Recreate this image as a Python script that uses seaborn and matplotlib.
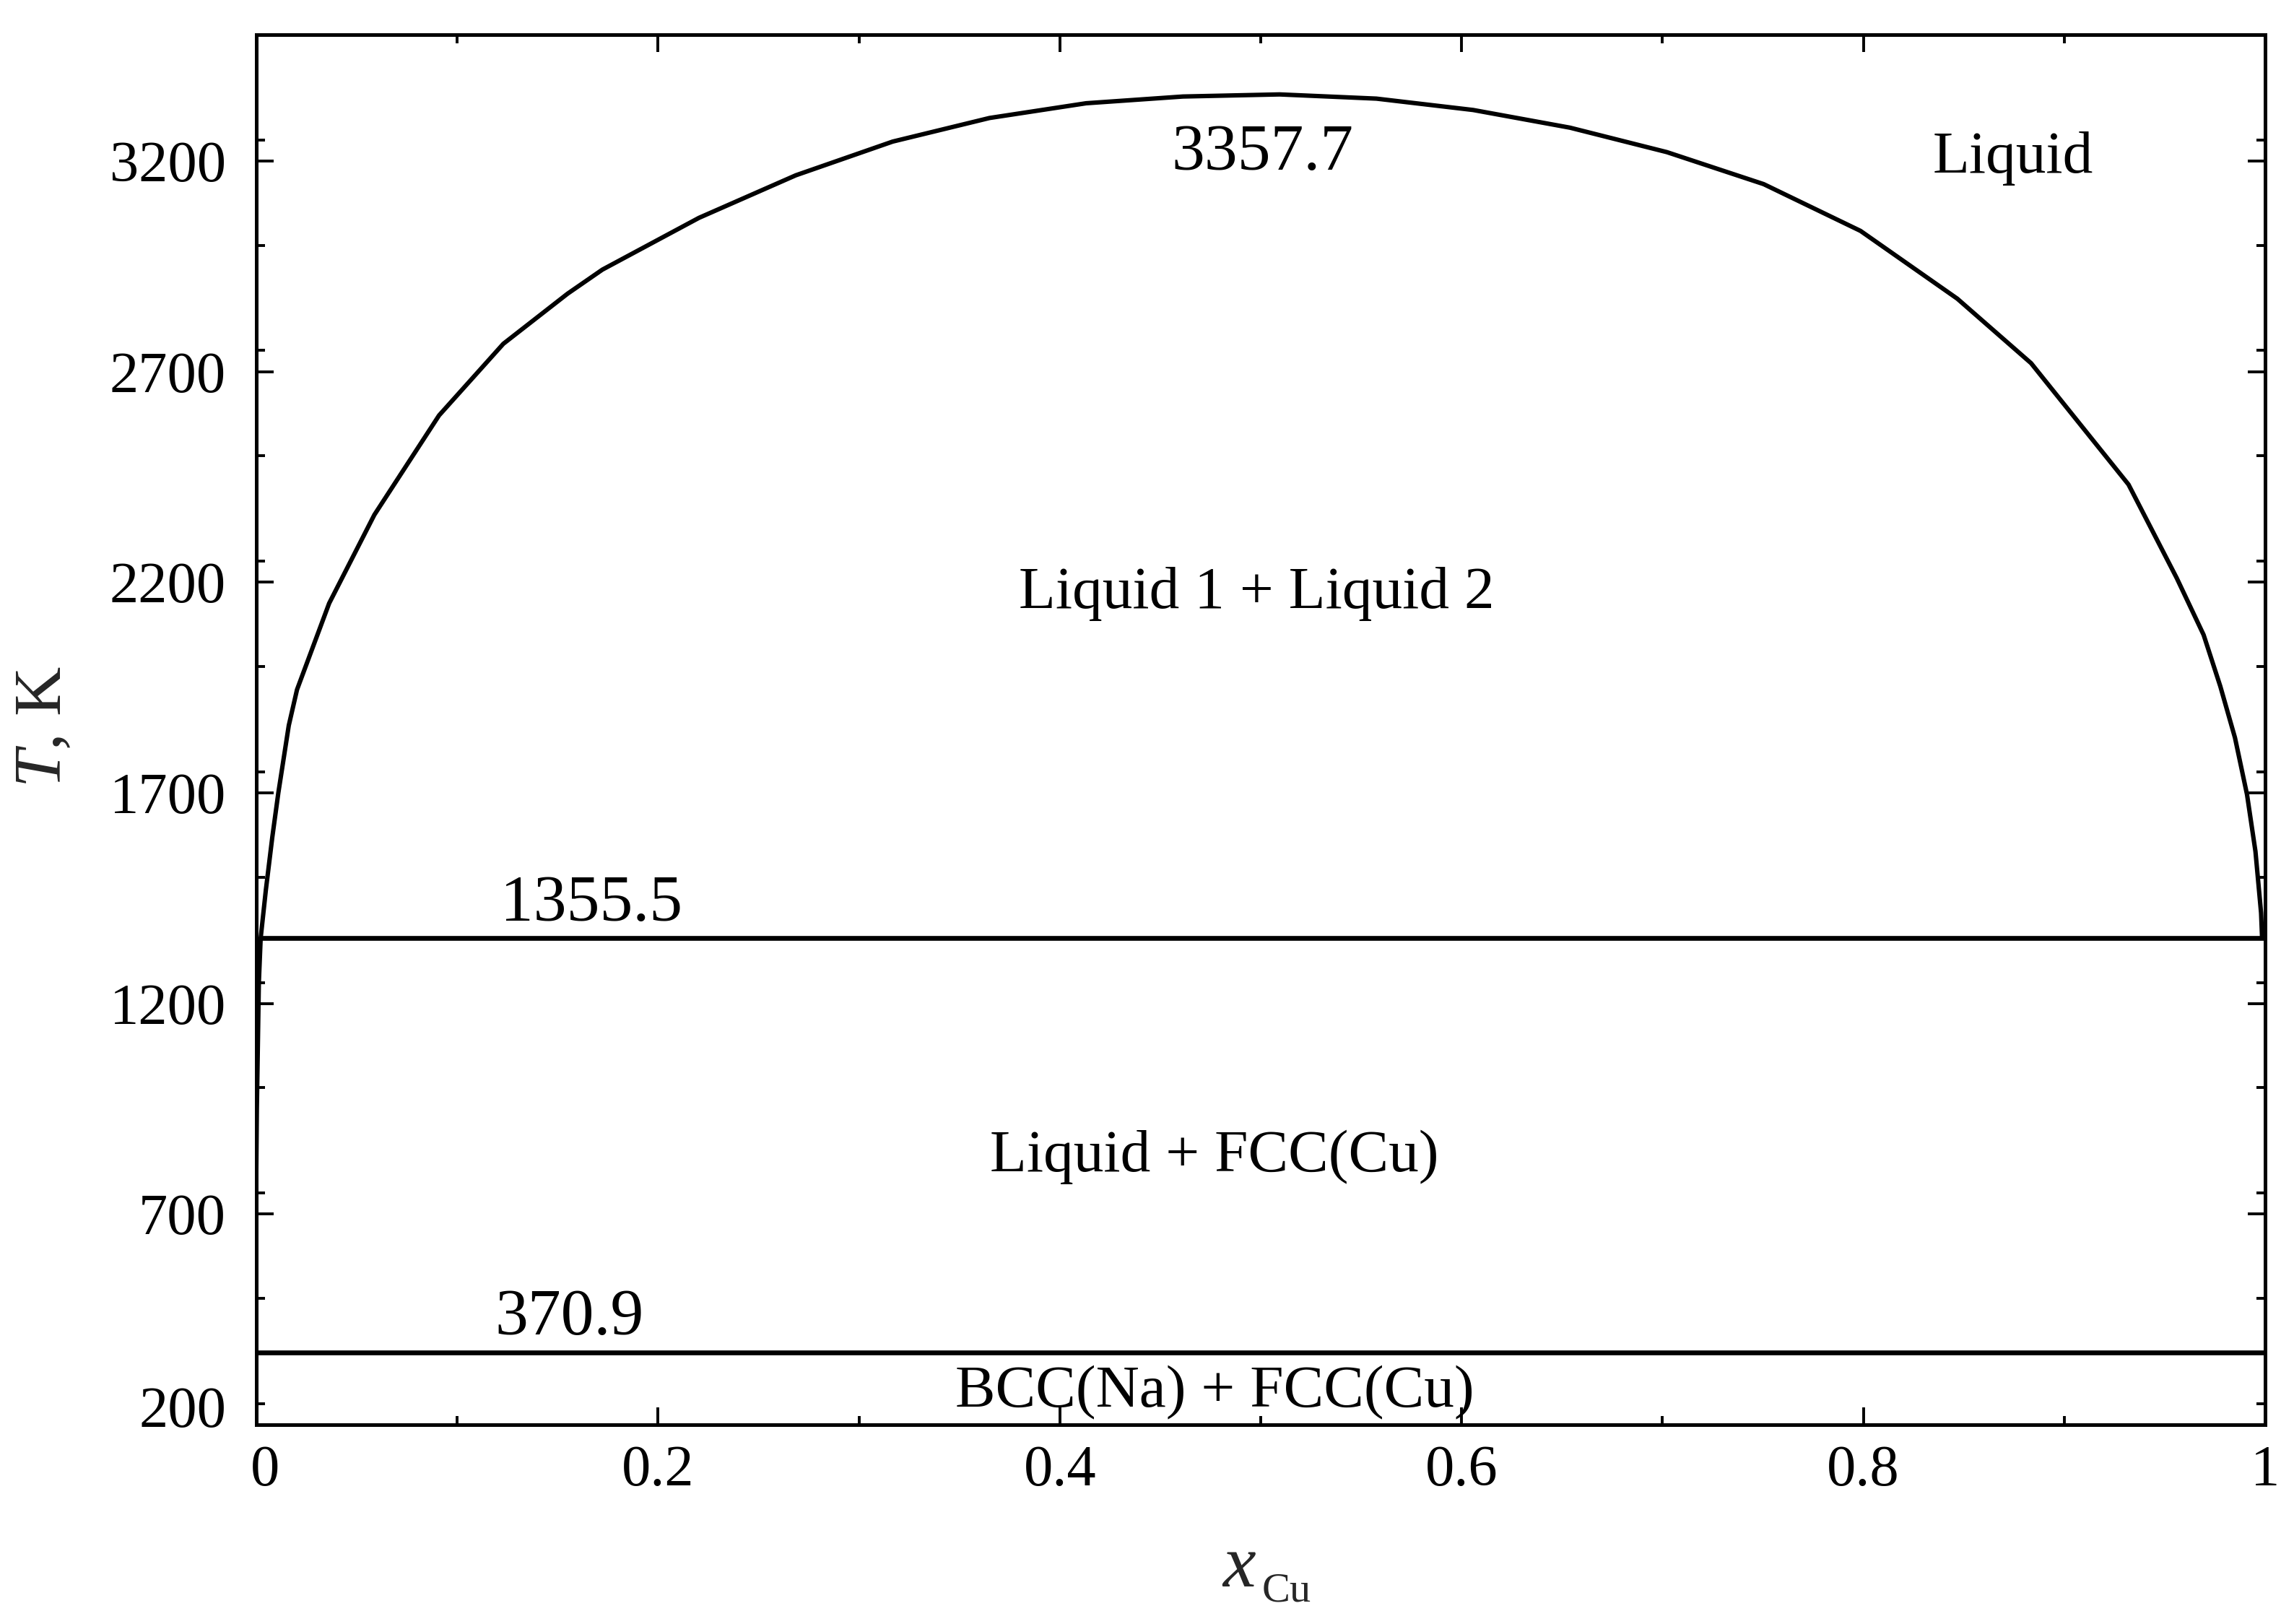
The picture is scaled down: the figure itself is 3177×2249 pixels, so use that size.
import numpy as np
import pandas as pd
import seaborn as sns
import matplotlib.pyplot as plt
from matplotlib.ticker import MultipleLocator, FixedLocator
from matplotlib.transforms import ScaledTranslation

# --- DATA ---
# liquidus / miscibility-gap boundary, from x_Cu = 0 at low T round the dome to x_Cu ~ 1
CURVE_X = [0.0, 0.0003, 0.0008, 0.0013, 0.0022, 0.0048, 0.0080, 0.011,
           0.0162, 0.0203, 0.0363, 0.0588, 0.091, 0.123, 0.155, 0.1723,
           0.2204, 0.2686, 0.3168, 0.365, 0.4131, 0.4613, 0.5094, 0.5576,
           0.6058, 0.654, 0.7022, 0.7504, 0.7986, 0.8468, 0.8835, 0.932,
           0.956, 0.9694, 0.9777, 0.985, 0.991, 0.9952, 0.998, 0.9985]
CURVE_T = [790, 950, 1100, 1250, 1355, 1470, 1595, 1700,
           1860, 1945, 2150, 2360, 2596, 2766, 2885, 2942,
           3065, 3166, 3246, 3302, 3337, 3353, 3358, 3348,
           3321, 3279, 3221, 3145, 3034, 2873, 2720, 2432,
           2210, 2075, 1953, 1831, 1696, 1561, 1415, 1356]

# invariant lines
MONOTECTIC_T = 1355.5
MONOTECTIC_X = [0.0022, 1.0]
EUTECTIC_T = 370.9
EUTECTIC_X = [0.0, 1.0]
CRITICAL_T = 3357.7

# region labels: text, x, T (baseline)
REGION_LABELS = ["Liquid", "Liquid 1 + Liquid 2", "Liquid + FCC(Cu)", "BCC(Na) + FCC(Cu)"]
REGION_X = [0.8745, 0.498, 0.477, 0.477]
REGION_T = [3172, 2139, 801, 243]

# value labels: x, T (baseline)
VALUE_LABELS = [f"{CRITICAL_T}", f"{MONOTECTIC_T}", f"{EUTECTIC_T}"]
VALUE_X = [0.501, 0.167, 0.156]
VALUE_T = [3179, 1396, 414]

X_TICKS = [0, 0.2, 0.4, 0.6, 0.8, 1.0]
X_TICK_LABELS = ["0", "0.2", "0.4", "0.6", "0.8", "1"]
Y_TICKS = [200, 700, 1200, 1700, 2200, 2700, 3200]

# --- STYLE ---
sns.set_theme(style="ticks")
plt.rcParams["font.family"] = ["Liberation Serif", "DejaVu Serif"]
plt.rcParams["mathtext.fontset"] = "custom"
plt.rcParams["mathtext.rm"] = "Liberation Serif"
plt.rcParams["mathtext.it"] = "Liberation Serif:italic"

DPI = 200
fig = plt.figure(figsize=(3177 / DPI, 2249 / DPI), dpi=DPI)
ax = fig.add_axes([0.1117, 0.1227, 0.8757, 0.856])

curve = pd.DataFrame({"x": CURVE_X, "T": CURVE_T})
sns.lineplot(data=curve, x="x", y="T", sort=False, estimator=None,
             color="black", linewidth=2.2, ax=ax,
             solid_joinstyle="round", solid_capstyle="round")

for xs, t in [(MONOTECTIC_X, MONOTECTIC_T), (EUTECTIC_X, EUTECTIC_T)]:
    line = pd.DataFrame({"x": xs, "T": [t] * len(xs)})
    sns.lineplot(data=line, x="x", y="T", color="black", linewidth=2.4, ax=ax)

for txt, x, t in zip(REGION_LABELS, REGION_X, REGION_T):
    ax.text(x, t, txt, fontsize=30, ha="center", va="baseline", color="black")
for txt, x, t in zip(VALUE_LABELS, VALUE_X, VALUE_T):
    ax.text(x, t, txt, fontsize=33, ha="center", va="baseline", color="black")

ax.set_xlim(0, 1)
ax.set_ylim(200, 3500)
ax.xaxis.set_major_locator(FixedLocator(X_TICKS))
ax.set_xticklabels(X_TICK_LABELS)
ax.xaxis.set_minor_locator(MultipleLocator(0.1))
ax.yaxis.set_major_locator(FixedLocator(Y_TICKS))
ax.yaxis.set_minor_locator(MultipleLocator(250))

ax.tick_params(which="both", direction="in", top=True, right=True,
               width=1.4, color="black", labelsize=29, labelcolor="black")
ax.tick_params(which="major", length=8.8)
ax.tick_params(which="minor", length=4.4)
ax.tick_params(axis="y", pad=15)
ax.tick_params(axis="x", pad=10)
for sp in ax.spines.values():
    sp.set_linewidth(1.8)
    sp.set_color("black")

# nudge edge tick labels like the original
fig.canvas.draw()
ylabs = ax.get_yticklabels()
ylabs[0].set_transform(ylabs[0].get_transform() + ScaledTranslation(0, 25 / DPI, fig.dpi_scale_trans))
xlabs = ax.get_xticklabels()
xlabs[0].set_transform(xlabs[0].get_transform() + ScaledTranslation(12 / DPI, 0, fig.dpi_scale_trans))

ax.set_xlabel("")
ax.set_ylabel("")
fig.text(62 / 3177, 1 - 1006 / 2249, r"$T$, K", fontsize=34, rotation=90,
         ha="center", va="center")
fig.text(1716 / 3177, 1 - 2197 / 2249, "x", fontsize=37, fontstyle="italic",
         ha="center", va="baseline")
fig.text(1748 / 3177, 1 - 2218 / 2249, "Cu", fontsize=21, ha="left", va="baseline")

fig.savefig("out.png", dpi=DPI, facecolor="white")
plt.close(fig)
